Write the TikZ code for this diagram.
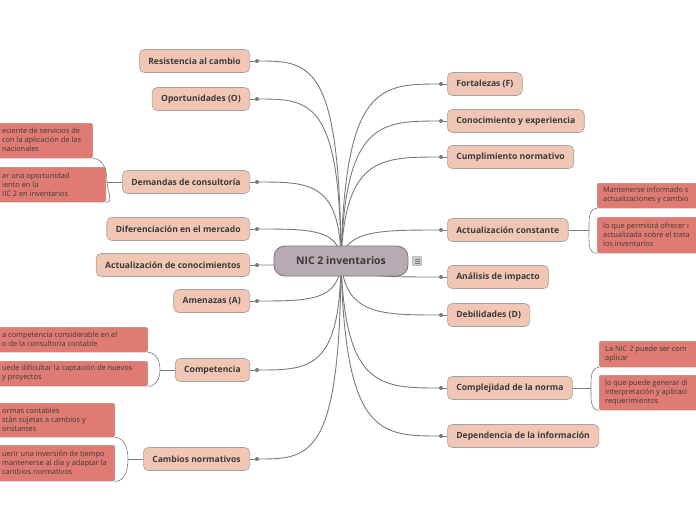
\documentclass[tikz,border=0pt]{standalone}
\usepackage{fontspec}
\setmainfont{Open Sans}
\usetikzlibrary{backgrounds}
\definecolor{mainf}{HTML}{F2C6B4}
\definecolor{leaf}{HTML}{E07B74}
\definecolor{ctr}{HTML}{B8AAB2}
\definecolor{ln}{HTML}{7A7A7A}
\definecolor{tx}{HTML}{3A3A3A}
\begin{document}
\begin{tikzpicture}[x=1pt,y=-1pt,
  mn/.style={draw=ln!70,line width=0.6pt,fill=mainf,rounded corners=5pt,minimum height=23pt,inner xsep=9pt,font=\fontsize{8.6}{10}\selectfont\bfseries,text=tx},
  lf/.style={draw=ln!60,line width=0.4pt,fill=leaf,rounded corners=2pt},
  lt/.style={anchor=west,align=left,font=\fontsize{7.4}{9}\selectfont,text=tx,inner sep=0pt},
  con/.style={ln,line width=0.9pt},
  br/.style={ln,line width=0.6pt},
  dot/.style={circle,fill=ln,inner sep=0pt,minimum size=4pt}]
\useasboundingbox (0,0) rectangle (696,520);
\begin{scope}[on background layer]
\fill[white] (0,0) rectangle (696,520);
\end{scope}
% center
\node[draw=ln,line width=0.9pt,fill=ctr,rounded corners=11pt,minimum width=134pt,minimum height=30pt,font=\fontsize{10.5}{12}\selectfont\bfseries,text=tx] (c) at (341,261) {NIC 2 inventarios};
\node[draw=ln,fill=ctr!60,minimum size=9pt,inner sep=0pt,rounded corners=1pt] (ic) at (417,261) {\tikz[x=1pt,y=1pt]{\draw[ln,line width=0.7pt] (0,0)--(5,0) (0,2)--(5,2) (0,4)--(5,4);}};
% left mains
\foreach \n/\t/\y in {a/Resistencia al cambio/61, b/Oportunidades (O)/99, d/Demandas de consultoría/182, e/Diferenciación en el mercado/229, f/Actualización de conocimientos/265, g/Amenazas (A)/301, h/Competencia/370, i/Cambios normativos/459}{
  \node[mn,anchor=east] (\n) at (250,\y) {\t};
  \node[dot] (\n d) at (257,\y) {};
  \begin{scope}[on background layer]
  \draw[con] (c.center) .. controls (340,\y) and (310,\y) .. (\n d.center);
  \draw[br] (\n.east) -- (\n d);
  \end{scope}
}
% right mains
\foreach \n/\t/\y in {r1/Fortalezas (F)/84, r2/Conocimiento y experiencia/121, r3/Cumplimiento normativo/157, r4/Actualización constante/230, r5/Análisis de impacto/277, r6/Debilidades (D)/315, r7/Complejidad de la norma/388, r8/Dependencia de la información/436}{
  \node[mn,anchor=west] (\n) at (447,\y) {\t};
  \node[dot] (\n d) at (441,\y) {};
  \begin{scope}[on background layer]
  \draw[con] (c.center) .. controls (345,\y) and (380,\y) .. (\n d.center);
  \draw[br] (\n.west) -- (\n d);
  \end{scope}
}
% Demandas leaves
\node[lf,minimum width=98pt,minimum height=35pt,anchor=north east] (d1) at (93,123) {};
\node[lt] (d1t) at (2,140) {eciente de servicios de\\con la aplicación de las\\nacionales};
\node[lf,minimum width=111pt,minimum height=35pt,anchor=north east] (d2) at (106,167) {};
\node[lt] (d2t) at (2,185) {ar una oportunidad\\iento en la\\IIC 2 en inventarios};
\coordinate (db) at (107,182);
\draw[br] (d.west) -- (db);
\draw[br] (db) to[out=90,in=0] (d1.south east);
\draw[br] (db) to[out=-90,in=0] (d2.south east);
% Competencia leaves
\node[lf,minimum width=153pt,minimum height=25pt,anchor=north east] (h1) at (148,327) {};
\node[lt] (h1t) at (2,339) {a competencia considerable en el\\o de la consultoría contable};
\node[lf,minimum width=153pt,minimum height=25pt,anchor=north east] (h2) at (148,361) {};
\node[lt] (h2t) at (2,373) {uede dificultar la captación de nuevos\\y proyectos};
\coordinate (hb) at (160,370);
\draw[br] (h.west) -- (hb);
\draw[br] (hb) to[out=90,in=0] (h1.south east);
\draw[br] (hb) to[out=-90,in=0] (h2.south east);
% Cambios leaves
\node[lf,minimum width=120pt,minimum height=34pt,anchor=north east] (i1) at (115,403) {};
\node[lt] (i1t) at (2,420) {ormas contables\\stán sujetas a cambios y\\onstantes};
\node[lf,minimum width=120pt,minimum height=36pt,anchor=north east] (i2) at (115,445) {};
\node[lt] (i2t) at (2,463) {uerir una inversión de tiempo\\mantenerse al día y adaptar la\\cambios normativos};
\coordinate (ib) at (128,459);
\draw[br] (i.west) -- (ib);
\draw[br] (ib) to[out=90,in=0] (i1.south east);
\draw[br] (ib) to[out=-90,in=0] (i2.south east);
% Actualizacion constante leaves
\node[lf,minimum width=105pt,minimum height=25pt,anchor=north west] (r41) at (597,183) {};
\node[lt] (r41t) at (603,195.5) {Mantenerse informado s\\actualizaciones y cambio};
\node[lf,minimum width=105pt,minimum height=36pt,anchor=north west] (r42) at (597,217) {};
\node[lt] (r42t) at (603,235) {lo que permitirá ofrecer i\\actualizada sobre el trata\\los inventarios};
\coordinate (r4b) at (589,230);
\draw[br] (r4.east) -- (r4b);
\draw[br] (r4b) to[out=90,in=180] (r41.south west);
\draw[br] (r4b) to[out=-90,in=180] (r42.south west);
% Complejidad leaves
\node[lf,minimum width=103pt,minimum height=26pt,anchor=north west] (r71) at (599,341) {};
\node[lt] (r71t) at (605,354) {La NIC 2 puede ser com\\aplicar};
\node[lf,minimum width=103pt,minimum height=35pt,anchor=north west] (r72) at (599,375) {};
\node[lt] (r72t) at (605,392.5) {lo que puede generar di\\interpretación y aplicaci\\requerimientos};
\coordinate (r7b) at (591,388);
\draw[br] (r7.east) -- (r7b);
\draw[br] (r7b) to[out=90,in=180] (r71.south west);
\draw[br] (r7b) to[out=-90,in=180] (r72.south west);
\end{tikzpicture}
\end{document}
